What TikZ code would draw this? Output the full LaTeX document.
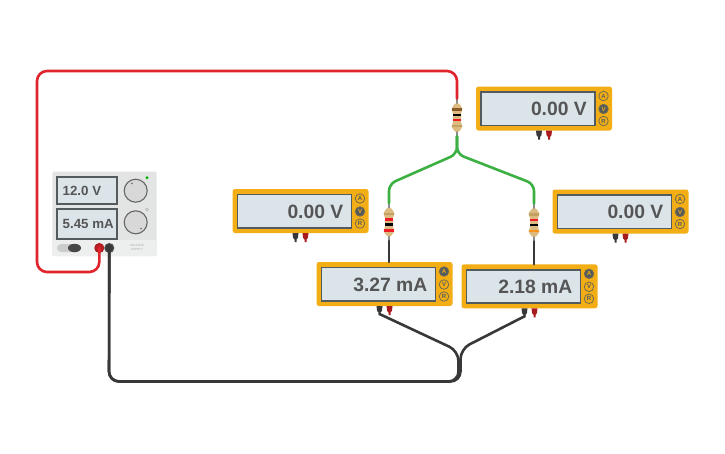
\documentclass[tikz,border=0pt]{standalone}
\usepackage{fontspec}
\setmainfont{Liberation Sans}
\definecolor{metbody}{HTML}{F2AE14}
\definecolor{lcd}{HTML}{DAE4E9}
\definecolor{lcdedge}{HTML}{545B5E}
\definecolor{readout}{HTML}{555555}
\definecolor{wirered}{HTML}{E0242B}
\definecolor{wiredark}{HTML}{383838}
\definecolor{wiregreen}{HTML}{3CB043}
\definecolor{restan}{HTML}{DDBB80}
\definecolor{psu}{HTML}{E3E5E5}
\definecolor{psufoot}{HTML}{EDEEEE}
\definecolor{knob}{HTML}{D8D8D8}
\definecolor{bandred}{HTML}{EE1C25}
\definecolor{bandbrown}{HTML}{8B5A2B}
\definecolor{bandorange}{HTML}{F7941D}
\definecolor{bandgold}{HTML}{9A7B35}
\definecolor{leadred}{HTML}{A81C20}
\tikzset{
  x=1pt,y=-1pt,
  wire/.style={line width=2.6pt,rounded corners=10pt,line cap=round},
  redwire/.style={wire,draw=wirered},
  darkwire/.style={wire,draw=wiredark},
  greenwire/.style={wire,draw=wiregreen,rounded corners=7pt},
  readtext/.style={font=\bfseries\fontsize{19.3}{19.3}\selectfont,text=readout,anchor=east,inner sep=0pt},
  psutext/.style={font=\bfseries\fontsize{13.3}{13.3}\selectfont,text=readout,anchor=west,inner sep=0pt},
  modebtn/.style={circle,draw=lcdedge!80!metbody,line width=.8pt,minimum size=9.5pt,inner sep=0pt,font=\bfseries\fontsize{6}{6}\selectfont,text=lcdedge},
  modeon/.style={modebtn,fill=lcdedge,text=metbody},
  tinytext/.style={font=\fontsize{3}{3.4}\selectfont,text=black!35,inner sep=0pt,align=center},
  terminal/.style={circle,minimum size=9pt,inner sep=0pt,line width=1pt},
}
% name, left, top, reading, style of A button, style of V button
\newcommand{\meter}[6]{%
  \begin{scope}[shift={(#2,#3)}]
    \fill[metbody,rounded corners=2.5pt] (0,0) rectangle (136,44);
    \draw[lcdedge,fill=lcd,line width=1.7pt] (5,5.5) rectangle (119,39);
    \node[readtext] (#1) at (111,22.5) {#4};
    \node[#5] (#1a) at (127.5,9.5) {A};
    \node[#6] (#1v) at (127.5,22.5) {V};
    \node[modebtn] (#1r) at (127.5,34.5) {R};
    \fill[wiredark] (60,44) -- (66,44) -- (65.4,49) -- (64,50.5) -- (64,53) -- (62,53) -- (62,50.5) -- (60.6,49) -- cycle;
    \fill[leadred] (70,44) -- (76,44) -- (75.4,49) -- (74,50.5) -- (74,53) -- (72,53) -- (72,50.5) -- (70.6,49) -- cycle;
    \coordinate (#1blk) at (63,52);
    \coordinate (#1top) at (72.5,0);
  \end{scope}}
% name, centre x, top y, then four bands listed top to bottom
\newcommand{\resistor}[7]{%
  \begin{scope}[shift={(#2,#3)}]
    \draw[black!45,line width=1.8pt] (0,-5) -- (0,33);
    \fill[restan] (-1.8,0) -- (1.8,0) .. controls (2.8,2) and (5.4,3) .. (5.4,5.5)
      .. controls (5.4,8) and (4,8) .. (4,10) -- (4,19)
      .. controls (4,21) and (5.4,21) .. (5.4,23)
      .. controls (5.4,25.5) and (2.8,26) .. (1.8,28) -- (-1.8,28)
      .. controls (-2.8,26) and (-5.4,25.5) .. (-5.4,23)
      .. controls (-5.4,21) and (-4,21) .. (-4,19) -- (-4,10)
      .. controls (-4,8) and (-5.4,8) .. (-5.4,5.5)
      .. controls (-5.4,3) and (-2.8,2) .. (-1.8,0) -- cycle;
    \fill[#4] (-5,4.5) rectangle (5,7.2);
    \fill[#5] (-4,10.2) rectangle (4,12.6);
    \fill[#6] (-4,15.4) rectangle (4,17.6);
    \fill[#7] (-5,21) rectangle (5,23.6);
    \coordinate (#1t) at (0,-5);
    \coordinate (#1b) at (0,33);
  \end{scope}}
\begin{document}
\begin{tikzpicture}
\useasboundingbox (0,0) rectangle (725,453);
\fill[white] (0,0) rectangle (725,453);

% power supply
\fill[psu,rounded corners=2pt] (52.3,171.5) rectangle (156.7,256);
\fill[psufoot,rounded corners=2pt] (52.3,240) rectangle (156.7,256);
\draw[lcdedge,fill=lcd,line width=2pt] (57,177) rectangle (117,203.5);
\draw[lcdedge,fill=lcd,line width=2pt] (57,208.5) rectangle (117,238.5);
\node[psutext] (volts) at (62.5,190.5) {12.0 V};
\node[psutext] (amps) at (62.5,223.5) {5.45 mA};
\draw[black!60,fill=knob,line width=1.1pt] (135.7,190.7) circle (11.5);
\draw[black!60,fill=knob,line width=1.1pt] (135.7,222.3) circle (11.5);
\fill[black!60] (132,183.5) circle (.9);
\fill[black!60] (141,228.5) circle (.9);
\fill[green!70!black] (147,177.8) circle (1.6);
\draw[black!30,line width=.5pt] (147,209.5) circle (1.5);
\fill[black!20,rounded corners=4pt] (57,244) rectangle (81,252);
\fill[black!72] (74.5,248) ellipse (6.5 and 4.2);
\node[tinytext] (supplylabel) at (137,247.5) {VOLTAGE\\SUPPLY};
\node[terminal,fill=wirered!85!black,draw=leadred] (posT) at (99.3,248) {};
\node[terminal,fill=wiredark,draw=black!70] (negT) at (109.3,248) {};

% resistors
\resistor{rtop}{457}{103.5}{bandbrown}{black}{bandred}{bandgold!40!restan}
\resistor{rleft}{389}{208}{bandgold!40!restan}{bandred}{black}{bandred}
\resistor{rright}{534}{208.5}{bandgold!40!restan}{bandred}{black}{bandorange}

% meters
\meter{vtop}{476}{86.5}{0.00 V}{modebtn}{modeon}
\meter{vleft}{232.5}{189}{0.00 V}{modebtn}{modeon}
\meter{vright}{552.5}{189.5}{0.00 V}{modebtn}{modeon}
\meter{aone}{316.5}{262}{3.27 mA}{modeon}{modebtn}
\meter{atwo}{461.5}{264.3}{2.18 mA}{modeon}{modebtn}

% connector anchors
\coordinate (redA) at (37,272);
\coordinate (redD) at (99.3,272);
\coordinate (redB) at (37,71);
\coordinate (redC) at (457,71);
\coordinate (split) at (457,154);
\coordinate (gl) at (389,184);
\coordinate (gr) at (534,184);
\coordinate (join) at (458.5,381.5);
\coordinate (join2) at (460.5,381.5);
\coordinate (negC) at (109,381.5);
\coordinate (m1) at (458.5,351);
\coordinate (m2) at (460.5,349);

% wires
\draw[redwire] (posT.center) -- (redD) -- (redA) -- (redB) -- (redC) -- (rtopt);
\draw[greenwire] (rtopb) -- (split) -- (gl) -- (rleftt);
\draw[greenwire] (rtopb) -- (split) -- (gr) -- (rrightt);
\draw[darkwire] (rleftb) -- (aonetop);
\draw[darkwire] (rrightb) -- (atwotop);
\draw[darkwire] (negT.center) -- (negC) -- (join) -- (m1) -- (aoneblk);
\draw[darkwire] (negT.center) -- (negC) -- (join2) -- (m2) -- (atwoblk);
\end{tikzpicture}
\end{document}
